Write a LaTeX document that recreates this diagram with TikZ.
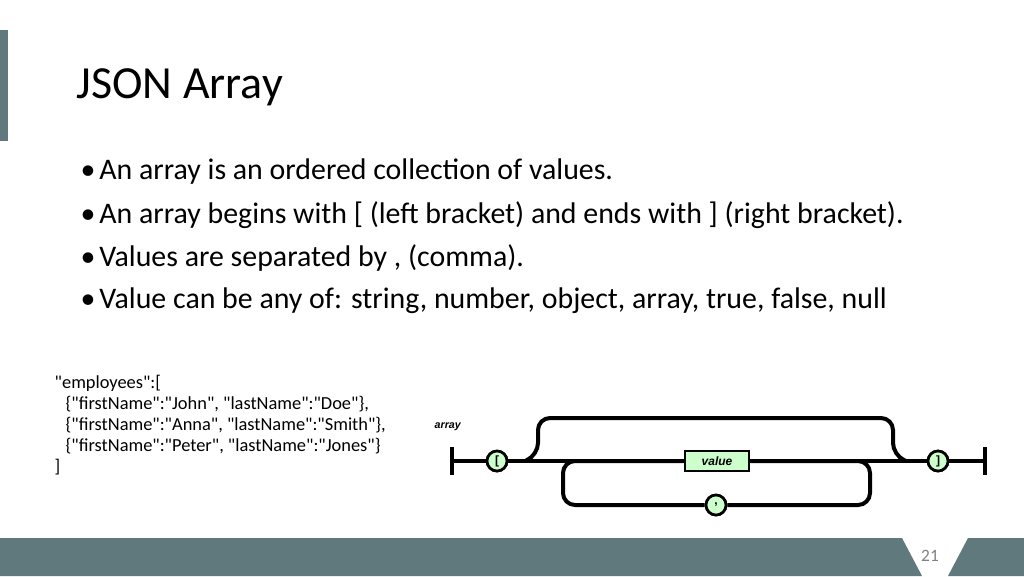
\documentclass[tikz,border=0pt]{standalone}
\usepackage{fontspec}
\setmainfont{Carlito}[Ligatures=TeXOff]
\newfontfamily\arialfont{Liberation Sans}
\usetikzlibrary{positioning}
\definecolor{slate}{HTML}{5F797C}
\definecolor{railgreen}{HTML}{CCFFCC}
\tikzset{
    rail/.style={line width=3pt, rounded corners=9pt},
    token/.style={circle, draw, line width=2pt, fill=railgreen, minimum size=15pt, inner sep=0pt, font=\arialfont\bfseries\small},
    rulebox/.style={draw, line width=2pt, fill=railgreen, minimum width=48pt, minimum height=15pt, inner sep=0pt, font=\arialfont\bfseries\itshape\small},
    bullet/.style={anchor=west, font=\fontsize{22.4}{26}\selectfont},
    code/.style={anchor=west, font=\fontsize{13.8}{16}\selectfont}
}
\newcommand{\bul}{\makebox[14pt][l]{•}}
\begin{document}
\begin{tikzpicture}[x=0.75pt,y=-0.75pt]
    \useasboundingbox (0,0) rectangle (1024,576);
    \fill[white] (0,0) rectangle (1024,576);
    % frame
    \fill[slate] (0,30) rectangle (8,141);
    \fill[slate] (0,538) -- (902,538) -- (922,576) -- (0,576) -- cycle;
    \fill[slate] (968,538) -- (1024,538) -- (1024,576) -- (948,576) -- cycle;
    \node[text=gray, font=\fontsize{13}{15}\selectfont] (page) at (930,556) {21};
    % text
    \node[anchor=west, font=\fontsize{34.5}{40}\selectfont] (title) at (72,87) {JSON Array};
    \node[bullet] (b1) at (76,172) {\bul An array is an ordered collection of values.};
    \node[bullet] (b2) at (76,215) {\bul An array begins with [ (left bracket) and ends with ] (right bracket).};
    \node[bullet] (b3) at (76,258) {\bul Values are separated by , (comma).};
    \node[bullet] (b4) at (76,301) {\bul Value can be any of: string, number, object, array, true, false, null};
    \node[code] (c1) at (50,383) {"employees":[};
    \node[code] (c2) at (61,404) {\{"firstName":"John", "lastName":"Doe"\},};
    \node[code] (c3) at (61,425) {\{"firstName":"Anna", "lastName":"Smith"\},};
    \node[code] (c4) at (61,446) {\{"firstName":"Peter", "lastName":"Jones"\}};
    \node[code] (c5) at (50,467) {]};
    % railroad
    \node[anchor=west, font=\arialfont\bfseries\itshape\footnotesize] (lbl) at (430,427) {array};
    \coordinate (start) at (452,461);
    \coordinate (stop) at (985,461);
    \node[token] (open) at (497,461) {[};
    \node[rulebox] (value) at (717,461) {value};
    \node[token] (close) at (938,461) {]};
    \node[token] (comma) at (716,505) {,};
    \draw[line width=3pt] (452,447) -- (452,475);
    \draw[line width=3pt] (985,447) -- (985,475);
    \draw[rail] (start) -- (open) -- (value) -- (close) -- (stop);
    \draw[rail] (525,461) -- (538,455) -- (538,418) -- (893,418) -- (893,455) -- (906,461);
    \draw[rail] (value.east) -- (870,461) -- (870,505) -- (comma) -- (563,505) -- (563,461) -- (value.west);
    \node[rulebox] at (value) {value};
    \node[token] at (comma) {,};
    \node[token] at (open) {[};
    \node[token] at (close) {]};
\end{tikzpicture}
\end{document}
